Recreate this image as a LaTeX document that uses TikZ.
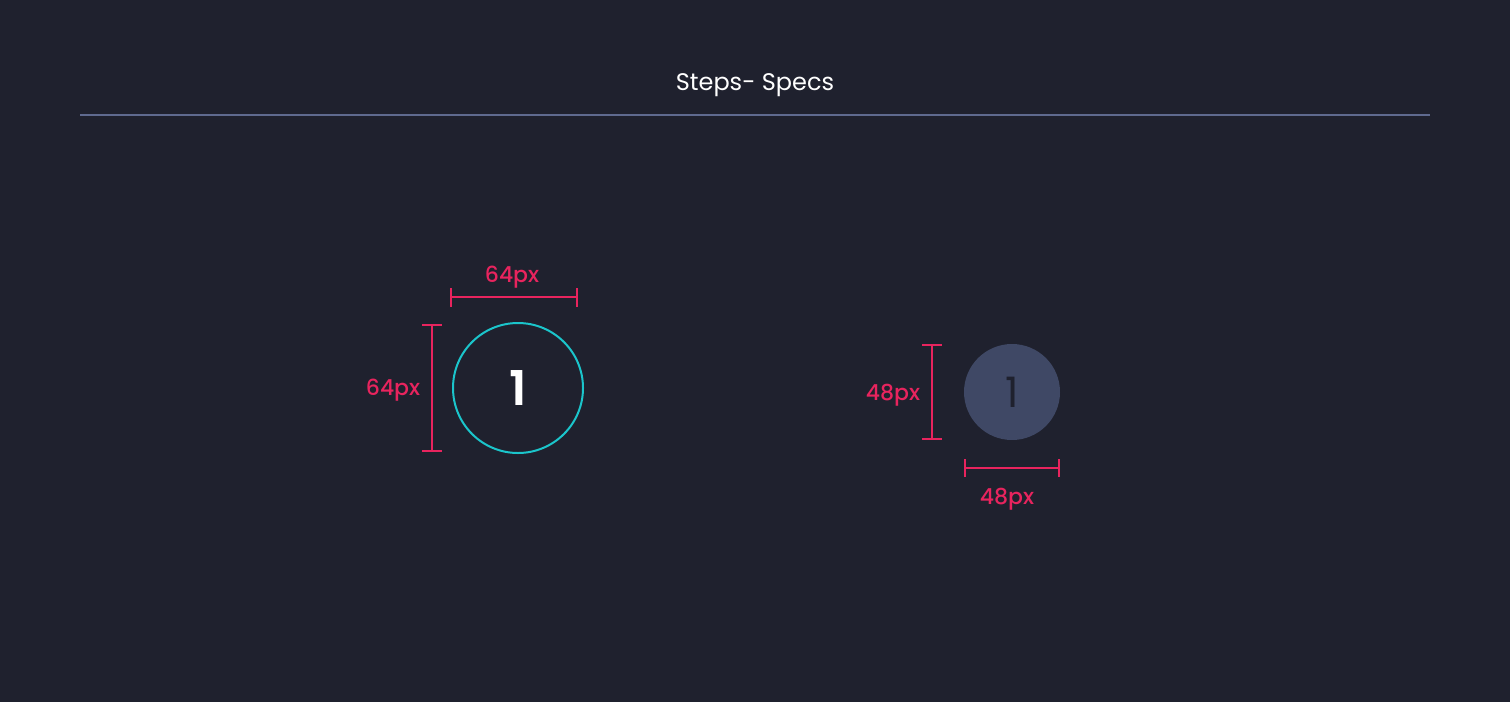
\documentclass[tikz,border=0pt]{standalone}
\usepackage{fontspec}
\setmainfont{Poppins}
\newfontfamily\popmed{Poppins}[UprightFont=* Medium]
\newfontfamily\popsemi{Poppins}[UprightFont=* SemiBold]
\definecolor{bgc}{HTML}{1F212E}
\definecolor{rulec}{HTML}{5F6A8F}
\definecolor{cyanc}{HTML}{1BC5CB}
\definecolor{pinkc}{HTML}{E8245E}
\definecolor{greyc}{HTML}{3F4865}
\tikzset{
  dimline/.style={draw=pinkc, line width=2pt},
  dimlabel/.style={text=pinkc, font=\popmed\fontsize{22}{24}\selectfont, inner sep=0pt},
}
\begin{document}
\begin{tikzpicture}[x=1pt,y=-1pt]
\fill[bgc] (0,0) rectangle (1510,702);
\useasboundingbox (0,0) rectangle (1510,702);
\node[text=white, font=\fontsize{24}{26}\selectfont, inner sep=0pt] (title) at (755,85) {Steps- Specs};
\coordinate (rl) at (80,115);
\coordinate (rr) at (1430,115);
\draw[rulec, line width=2pt] (rl) -- (rr);
% left step
\node[circle, draw=cyanc, line width=2pt, minimum size=130pt, inner sep=0pt, text=white, font=\popsemi\fontsize{48}{50}\selectfont] (c1) at (518,388) {1};
\coordinate (h1a) at (451,297); \coordinate (h1b) at (577,297);
\draw[dimline] (h1a) -- (h1b) (451,288) -- (451,307) (577,288) -- (577,307);
\node[dimlabel] (l1) at (512,277) {64px};
\coordinate (v1a) at (432,325); \coordinate (v1b) at (432,451);
\draw[dimline] (v1a) -- (v1b) (422,325) -- (442,325) (422,451) -- (442,451);
\node[dimlabel] (l2) at (393,390) {64px};
% right step
\node[circle, fill=greyc, minimum size=96pt, inner sep=0pt, text=bgc, font=\fontsize{42}{44}\selectfont] (c2) at (1012,392) {1};
\coordinate (v2a) at (932,345); \coordinate (v2b) at (932,439);
\draw[dimline] (v2a) -- (v2b) (922,345) -- (942,345) (922,439) -- (942,439);
\node[dimlabel] (l3) at (893,395) {48px};
\coordinate (h2a) at (965,468); \coordinate (h2b) at (1059,468);
\draw[dimline] (h2a) -- (h2b) (965,459) -- (965,477) (1059,459) -- (1059,477);
\node[dimlabel] (l4) at (1007,499) {48px};
\end{tikzpicture}
\end{document}
